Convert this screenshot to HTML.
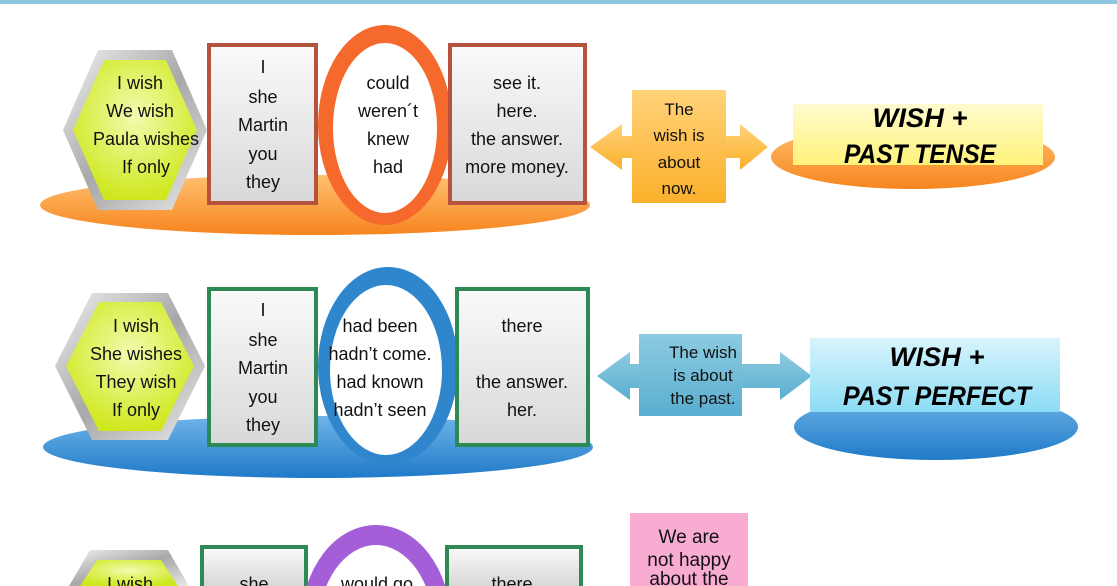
<!DOCTYPE html>
<html><head><meta charset="utf-8"><style>
html,body{margin:0;padding:0;background:#fff;width:1117px;height:586px;overflow:hidden;}
svg{display:block;overflow:hidden;}
.t{font-family:"Liberation Sans",sans-serif;font-size:18px;fill:#111;text-anchor:middle;}
.a{font-family:"Liberation Sans",sans-serif;font-size:17px;fill:#111;text-anchor:middle;}
.h{font-family:"Liberation Sans",sans-serif;font-size:27px;font-weight:bold;font-style:italic;fill:#000;text-anchor:middle;}
</style></head><body>
<svg width="1117" height="586" viewBox="0 0 1117 586" xmlns="http://www.w3.org/2000/svg">
<defs>
<clipPath id="cl"><rect x="0" y="0" width="1117" height="586"/></clipPath>
<linearGradient id="box" x1="0" y1="0" x2="0" y2="1"><stop offset="0" stop-color="#fafafa"/><stop offset="1" stop-color="#d8d8d8"/></linearGradient>
<radialGradient id="hex" cx="0.5" cy="0.4" r="0.6"><stop offset="0" stop-color="#f2fbb0"/><stop offset="1" stop-color="#cfe81e"/></radialGradient>
<linearGradient id="silver" x1="0" y1="0" x2="1" y2="1"><stop offset="0" stop-color="#f0f0f0"/><stop offset="0.5" stop-color="#a8a8a8"/><stop offset="1" stop-color="#e8e8e8"/></linearGradient>
<linearGradient id="or" x1="0" y1="0" x2="0" y2="1"><stop offset="0" stop-color="#ffc070"/><stop offset="1" stop-color="#f7851e"/></linearGradient>
<linearGradient id="bl" x1="0" y1="0" x2="0" y2="1"><stop offset="0" stop-color="#6fb4e8"/><stop offset="1" stop-color="#1f7ac8"/></linearGradient>
<linearGradient id="oa" x1="0" y1="0" x2="0" y2="1"><stop offset="0" stop-color="#ffd27a"/><stop offset="1" stop-color="#fbb02a"/></linearGradient>
<linearGradient id="ba" x1="0" y1="0" x2="0" y2="1"><stop offset="0" stop-color="#8ccbe0"/><stop offset="1" stop-color="#5aaed0"/></linearGradient>
<linearGradient id="yb" x1="0" y1="0" x2="0" y2="1"><stop offset="0" stop-color="#fffbd0"/><stop offset="1" stop-color="#fff27a"/></linearGradient>
<linearGradient id="cb" x1="0" y1="0" x2="0" y2="1"><stop offset="0" stop-color="#d8f4fc"/><stop offset="1" stop-color="#8cdcf4"/></linearGradient>
</defs>
<rect x="0" y="0" width="1117" height="4" fill="#8ec8de"/>

<!-- ROW 1 -->
<ellipse cx="315" cy="205" rx="275" ry="30" fill="url(#or)"/>
<polygon points="63,130 98,50 172,50 207,130 172,210 98,210" fill="url(#silver)"/>
<polygon points="73,130 104,60 166,60 197,130 166,200 104,200" fill="url(#hex)"/>
<text class="t"><tspan x="140" y="89">I wish</tspan><tspan x="140" y="117">We wish</tspan><tspan x="146" y="145">Paula wishes</tspan><tspan x="146" y="173">If only</tspan></text>
<rect x="209" y="45" width="107" height="158" fill="url(#box)" stroke="#b4543e" stroke-width="4"/>
<text class="t"><tspan x="263" y="73">I</tspan><tspan x="263" y="103">she</tspan><tspan x="263" y="131">Martin</tspan><tspan x="263" y="160">you</tspan><tspan x="263" y="188">they</tspan></text>
<ellipse cx="385" cy="125" rx="67" ry="100" fill="#f56a2c"/>
<ellipse cx="385" cy="128" rx="52" ry="85" fill="#fff"/>
<text class="t"><tspan x="388" y="89">could</tspan><tspan x="388" y="117">weren´t</tspan><tspan x="388" y="145">knew</tspan><tspan x="388" y="173">had</tspan></text>
<rect x="450" y="45" width="135" height="158" fill="url(#box)" stroke="#b4543e" stroke-width="4"/>
<text class="t"><tspan x="517" y="89">see it.</tspan><tspan x="517" y="117">here.</tspan><tspan x="517" y="145">the answer.</tspan><tspan x="517" y="173">more money.</tspan></text>
<polygon points="590,147 622,124 622,136 740,136 740,124 768,147 740,170 740,158 622,158 622,170" fill="url(#oa)"/>
<rect x="632" y="90" width="94" height="113" fill="url(#oa)"/>
<text class="a"><tspan x="679" y="115">The</tspan><tspan x="679" y="141">wish is</tspan><tspan x="679" y="168">about</tspan><tspan x="679" y="194">now.</tspan></text>
<ellipse cx="913" cy="157" rx="142" ry="32" fill="url(#or)"/>
<rect x="793" y="104" width="250" height="61" fill="url(#yb)"/>
<text class="h"><tspan x="920" y="127" textLength="95" lengthAdjust="spacingAndGlyphs">WISH +</tspan><tspan x="920" y="163" textLength="152" lengthAdjust="spacingAndGlyphs">PAST TENSE</tspan></text>

<!-- ROW 2 -->
<ellipse cx="318" cy="447" rx="275" ry="31" fill="url(#bl)"/>
<polygon points="55,366 92,293 168,293 205,366 168,440 92,440" fill="url(#silver)"/>
<polygon points="66,366 99,302 161,302 194,366 161,431 99,431" fill="url(#hex)"/>
<text class="t"><tspan x="136" y="332">I wish</tspan><tspan x="136" y="360">She wishes</tspan><tspan x="136" y="388">They wish</tspan><tspan x="136" y="416">If only</tspan></text>
<rect x="209" y="289" width="107" height="156" fill="url(#box)" stroke="#2e8a55" stroke-width="4"/>
<text class="t"><tspan x="263" y="316">I</tspan><tspan x="263" y="346">she</tspan><tspan x="263" y="374">Martin</tspan><tspan x="263" y="403">you</tspan><tspan x="263" y="431">they</tspan></text>
<ellipse cx="388" cy="366" rx="70" ry="99" fill="#2f86cc"/>
<ellipse cx="386" cy="370" rx="56" ry="85" fill="#fff"/>
<text class="t"><tspan x="380" y="332">had been</tspan><tspan x="380" y="360">hadn’t come.</tspan><tspan x="380" y="388">had known</tspan><tspan x="380" y="416">hadn’t seen</tspan></text>
<rect x="457" y="289" width="131" height="156" fill="url(#box)" stroke="#2e8a55" stroke-width="4"/>
<text class="t"><tspan x="522" y="332">there</tspan><tspan x="522" y="388">the answer.</tspan><tspan x="522" y="416">her.</tspan></text>
<polygon points="597,376 630,352 630,364 780,364 780,352 812,376 780,400 780,388 630,388 630,400" fill="url(#ba)"/>
<rect x="639" y="334" width="103" height="82" fill="url(#ba)"/>
<text class="a"><tspan x="703" y="358">The wish</tspan><tspan x="703" y="381">is about</tspan><tspan x="703" y="404">the past.</tspan></text>
<ellipse cx="936" cy="427" rx="142" ry="33" fill="url(#bl)"/>
<rect x="810" y="338" width="250" height="74" fill="url(#cb)"/>
<text class="h"><tspan x="937" y="366" textLength="95" lengthAdjust="spacingAndGlyphs">WISH +</tspan><tspan x="937" y="405" textLength="188" lengthAdjust="spacingAndGlyphs">PAST PERFECT</tspan></text>

<!-- ROW 3 -->
<g clip-path="url(#cl)">
<polygon points="69,586 90,550 168,550 189,586" fill="url(#silver)"/>
<polygon points="80,586 97,560 161,560 178,586" fill="url(#hex)"/>
<path d="M202,586 V547 H306 V586" fill="url(#box)" stroke="#2e8a55" stroke-width="4"/>
<ellipse cx="376" cy="624" rx="75" ry="99" fill="#a35ed8"/>
<ellipse cx="376" cy="630" rx="58" ry="85" fill="#fff"/>
<path d="M447,586 V547 H581 V586" fill="url(#box)" stroke="#2e8a55" stroke-width="4"/>
<rect x="630" y="513" width="118" height="73" fill="#f9acd2"/>
</g>
<text class="t"><tspan x="130" y="590">I wish</tspan></text>
<text class="t"><tspan x="254" y="590">she</tspan></text>
<text class="t"><tspan x="377" y="590">would go</tspan></text>
<text class="t"><tspan x="512" y="590">there</tspan></text>
<text class="a" style="font-size:19px"><tspan x="689" y="543">We are</tspan><tspan x="689" y="566">not happy</tspan><tspan x="689" y="585">about the</tspan></text>
</svg>
</body></html>
